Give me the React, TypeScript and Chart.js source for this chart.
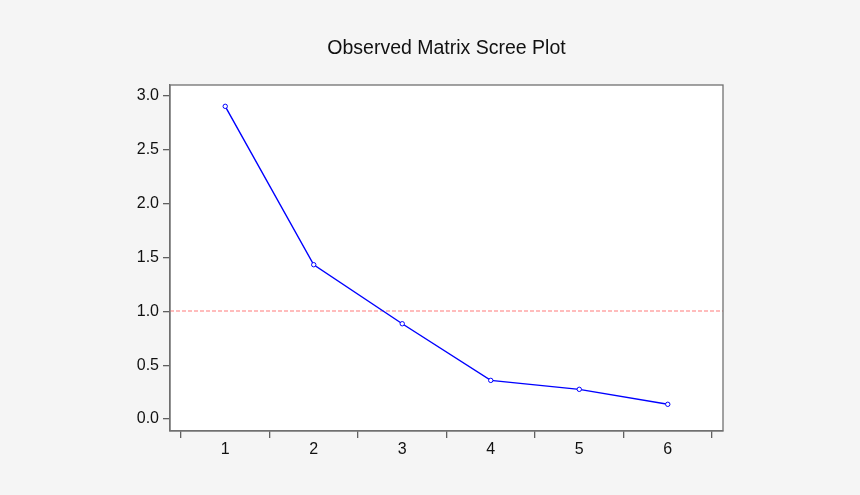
import React, { useEffect, useRef } from "react";
import { Chart, registerables } from "chart.js";

Chart.register(...registerables);

const categories: number[] = [1, 2, 3, 4, 5, 6];
const eigenvalues: number[] = [2.904, 1.433, 0.885, 0.359, 0.276, 0.137];
const yTickValues: number[] = [0, 0.5, 1, 1.5, 2, 2.5, 3];
const xTickValues: number[] = [0.5, 1, 1.5, 2, 2.5, 3, 3.5, 4, 4.5, 5, 5.5, 6, 6.5];
const thresholdValue = 1.0;
const titleText = "Observed Matrix Scree Plot";

const FONT = "'Liberation Sans', Arial, sans-serif";

const framePlugin = {
  id: "framePlugin",
  beforeDraw(chart: any) {
    const { ctx, chartArea } = chart;
    ctx.save();
    ctx.fillStyle = "#f5f5f5";
    ctx.fillRect(0, 0, chart.width, chart.height);
    ctx.fillStyle = "#ffffff";
    ctx.fillRect(chartArea.left, chartArea.top, chartArea.right - chartArea.left, chartArea.bottom - chartArea.top);
    ctx.restore();
  },
  beforeDatasetsDraw(chart: any) {
    const { ctx, chartArea } = chart;
    const y = Math.round(chart.scales.y.getPixelForValue(thresholdValue));
    ctx.save();
    ctx.strokeStyle = "#ffbcbc";
    ctx.lineWidth = 2;
    ctx.setLineDash([4, 2]);
    ctx.beginPath();
    ctx.moveTo(chartArea.left, y);
    ctx.lineTo(chartArea.right, y);
    ctx.stroke();
    ctx.restore();
  },
  afterDraw(chart: any) {
    const { ctx, chartArea } = chart;
    ctx.save();
    ctx.strokeStyle = "#707070";
    ctx.lineWidth = 1.3;
    ctx.strokeRect(chartArea.left, chartArea.top, chartArea.right - chartArea.left, chartArea.bottom - chartArea.top);
    ctx.restore();
  },
};

export default function App() {
  const canvasRef = useRef<HTMLCanvasElement | null>(null);

  useEffect(() => {
    document.body.style.margin = "0";
    const canvas = canvasRef.current;
    if (!canvas) return;
    const points = categories.map((c, i) => ({ x: c, y: eigenvalues[i] }));
    const chart = new Chart(canvas, {
      type: "line",
      data: {
        datasets: [
          {
            data: points,
            borderColor: "#0000ff",
            borderWidth: 1.4,
            pointRadius: 2.2,
            pointBorderWidth: 1,
            pointBackgroundColor: "#ffffff",
            pointBorderColor: "#0000ff",
            tension: 0,
            fill: false,
          },
        ],
      },
      options: {
        animation: false,
        responsive: false,
        devicePixelRatio: 1,
        layout: { padding: { left: 0, right: 137, top: 0, bottom: 0 } },
        plugins: {
          legend: { display: false },
          tooltip: { enabled: false },
          title: {
            display: true,
            text: titleText,
            color: "#111111",
            fullSize: false,
            font: { family: FONT, size: 19.5, weight: "normal", lineHeight: 1.2 },
            padding: { top: 37.3, bottom: 24.3 },
          },
        },
        scales: {
          x: {
            type: "linear",
            min: 0.376,
            max: 6.624,
            afterBuildTicks: (scale: any) => {
              scale.ticks = xTickValues.map((v) => ({ value: v }));
            },
            afterFit: (scale: any) => {
              scale.height = 64;
            },
            ticks: {
              autoSkip: false,
              maxRotation: 0,
              padding: 1.5,
              color: "#111111",
              font: { family: FONT, size: 16 },
              callback: (v: any) => (Number.isInteger(Number(v)) ? String(v) : ""),
            },
            grid: {
              drawOnChartArea: false,
              drawTicks: true,
              tickLength: 7,
              lineWidth: 1.3,
              color: (ctx: any) =>
                ctx.tick && !Number.isInteger(ctx.tick.value) ? "#606060" : "rgba(0,0,0,0)",
            },
            border: { display: true, color: "#707070", width: 1.3 },
          },
          y: {
            type: "linear",
            min: -0.111,
            max: 3.102,
            afterBuildTicks: (scale: any) => {
              scale.ticks = yTickValues.map((v) => ({ value: v }));
            },
            afterFit: (scale: any) => {
              scale.width = 170;
            },
            ticks: {
              autoSkip: false,
              padding: 4,
              color: "#111111",
              font: { family: FONT, size: 16 },
              callback: (v: any) => Number(v).toFixed(1),
            },
            grid: {
              drawOnChartArea: false,
              drawTicks: true,
              tickLength: 7,
              lineWidth: 1.3,
              color: "#606060",
            },
            border: { display: true, color: "#707070", width: 1.3 },
          },
        },
      },
      plugins: [framePlugin],
    });
    return () => chart.destroy();
  }, []);

  return (
    <div style={{ width: 860, height: 495, background: "#f5f5f5" }}>
      <canvas ref={canvasRef} width={860} height={495} style={{ display: "block" }} />
    </div>
  );
}
